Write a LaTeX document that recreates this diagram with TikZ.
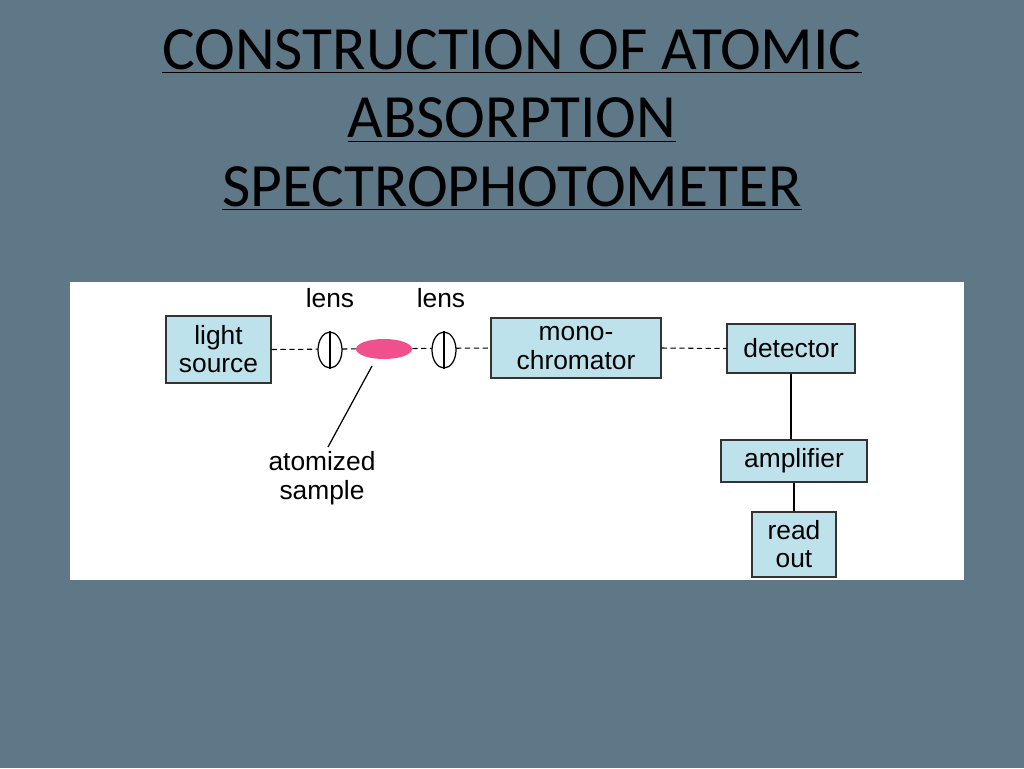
\documentclass[tikz,border=0pt]{standalone}
\usepackage{fontspec}
\usetikzlibrary{shapes.geometric}
\setmainfont{Liberation Sans}
\newfontfamily\titlefont{Carlito}
\begin{document}
\begin{tikzpicture}[x=0.02cm,y=-0.02cm,
  blk/.style={draw=black!80,fill=cyan!20!blue!10!white,line width=0.8pt,inner sep=0pt,align=center,font=\fontsize{15}{16}\selectfont},
  lbl/.style={align=center,font=\fontsize{15}{16.5}\selectfont},
  dsh/.style={densely dashed,line width=0.6pt},
  ln/.style={line width=0.7pt}]
\definecolor{bg}{HTML}{5E7888}
\definecolor{boxc}{HTML}{BEE2EC}
\definecolor{pinkc}{HTML}{F0508C}
\fill[bg] (0,0) rectangle (1024,768);
\useasboundingbox (0,0) rectangle (1024,768);
\node[align=center,font=\titlefont\fontsize{35}{39}\selectfont] (title) at (512,120)
 {\underline{CONSTRUCTION OF ATOMIC}\\\underline{ABSORPTION}\\\underline{SPECTROPHOTOMETER}};
\fill[white] (70,282) rectangle (964,580);
\node[blk,fill=boxc,minimum width=105*0.02cm,minimum height=67*0.02cm] (ls) at (218.5,349.5) {light\\source};
\node[blk,fill=boxc,minimum width=170*0.02cm,minimum height=60*0.02cm] (mono) at (576,348) {mono-\\chromator};
\node[blk,fill=boxc,minimum width=128*0.02cm,minimum height=49*0.02cm] (det) at (791,348.5) {detector};
\node[blk,fill=boxc,minimum width=146*0.02cm,minimum height=42*0.02cm] (amp) at (794,461) {amplifier};
\node[blk,fill=boxc,minimum width=84*0.02cm,minimum height=65*0.02cm] (ro) at (794,544.5) {read\\out};
\draw[dsh] (ls.east) -- (mono.west);
\draw[dsh] (mono.east) -- (det.west);
\node[draw,ln,fill=white,ellipse,minimum width=24*0.02cm,minimum height=36*0.02cm,inner sep=0pt] (l1) at (330,350) {};
\node[draw,ln,fill=white,ellipse,minimum width=24*0.02cm,minimum height=36*0.02cm,inner sep=0pt] (l2) at (444,350) {};
\draw[ln] (l1.north) -- (l1.south);
\draw[ln] (l2.north) -- (l2.south);
\node[fill=pinkc,ellipse,minimum width=56*0.02cm,minimum height=20*0.02cm,inner sep=0pt] (samp) at (384,349) {};
\node[lbl] (lens1) at (330,298) {lens};
\node[lbl] (lens2) at (441,298) {lens};
\node[lbl] (atom) at (322,478) {atomized\\sample};
\coordinate (tip) at (372,366);
\draw[ln] (atom.north) ++(6,2) -- (tip);
\draw[ln] (det.south) -- (det.south |- amp.north);
\draw[ln] (amp.south) -- (ro.north);
\end{tikzpicture}
\end{document}
